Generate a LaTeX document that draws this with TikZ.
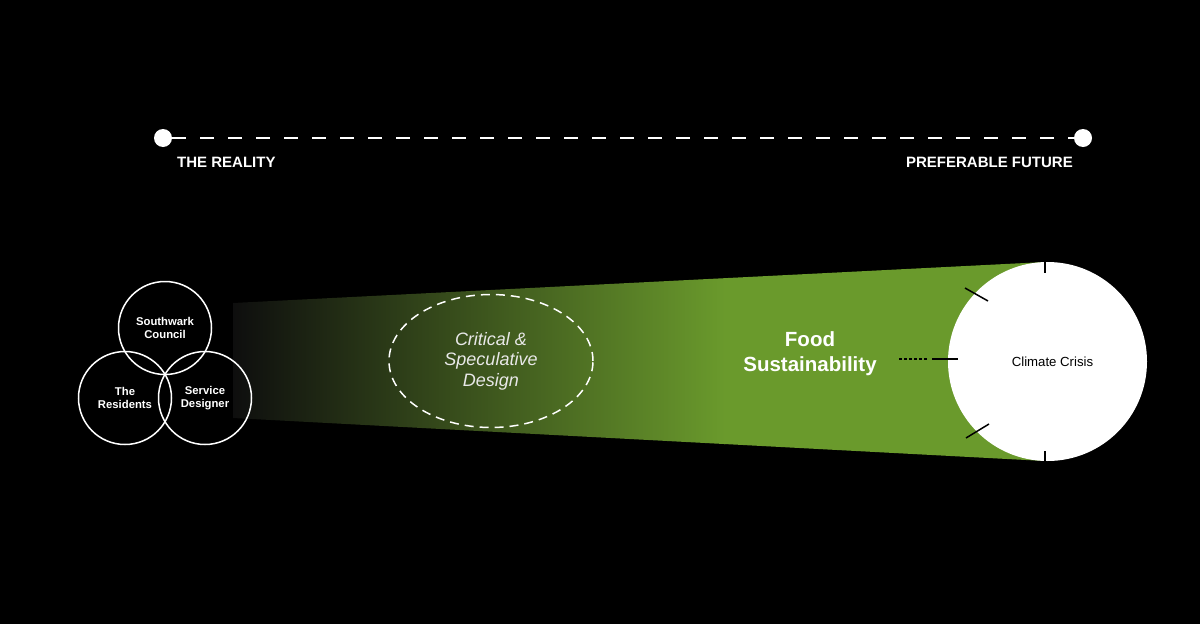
\documentclass[tikz,border=0pt]{standalone}
\usepackage{fontspec}
\setmainfont{Liberation Sans}
\usetikzlibrary{shapes.geometric}

\definecolor{foodgreen}{RGB}{106,154,44}
\definecolor{beamgrey}{RGB}{14,14,14}
\definecolor{beammid}{RGB}{54,68,42}
\definecolor{softwhite}{RGB}{232,232,232}

\begin{document}
\begin{tikzpicture}[
  x=1pt, y=-1pt,
  every node/.style={inner sep=1pt},
  dot/.style={circle, fill=white, minimum size=18pt, inner sep=0pt},
  timeline/.style={draw=white, line width=1.5pt, dash pattern=on 14pt off 14pt},
  stake/.style={circle, draw=white, line width=1.5pt, minimum size=93pt,
    inner sep=0pt, text=white, align=center, font=\fontsize{11.3}{13}\selectfont\bfseries},
  heading/.style={text=white, font=\fontsize{15}{18}\selectfont\bfseries},
  lens/.style={ellipse, draw=white, line width=1.5pt, dash pattern=on 9pt off 6pt,
    minimum width=204pt, minimum height=133pt, inner sep=0pt, text=softwhite,
    align=center, font=\fontsize{18}{20.5}\selectfont\itshape},
  crisis/.style={circle, fill=white, minimum size=199pt, inner sep=0pt,
    font=\fontsize{13.2}{15}\selectfont},
  tick/.style={draw=black, line width=1.5pt},
  dotline/.style={draw=black, line width=1.6pt, dash pattern=on 3pt off 2pt}]

  % canvas
  \useasboundingbox (0,0) rectangle (1200,624);
  \fill[black] (0,0) rectangle (1200,624);

  % beam from the stakeholders to the crisis
  \begin{scope}
    \clip (233,303) -- (1045,262) -- (1045,461) -- (233,418) -- cycle;
    \shade[left color=beamgrey, middle color=beammid, right color=foodgreen]
      (233,250) rectangle (725,470);
    \fill[foodgreen] (724,250) rectangle (1060,470);
  \end{scope}

  % timeline
  \node[dot] (reality) at (163,138) {};
  \node[dot] (future)  at (1083,138) {};
  \draw[timeline] (reality) -- (future);
  \node[heading, anchor=west] (realitytext) at (176,162) {THE REALITY};
  \node[heading, anchor=east] (futuretext)  at (1074,162) {PREFERABLE FUTURE};

  % stakeholders
  \node[stake] (council)   at (165,328) {Southwark\\Council};
  \node[stake] (residents) at (125,398) {The\\Residents};
  \node[stake] (designer)  at (205,398) {Service\\Designer};

  % approach and focus
  \node[lens] (design) at (491,361) {Critical \&\\Speculative\\Design};
  \node[text=white, align=center, font=\fontsize{20.5}{25}\selectfont\bfseries]
    (food) at (810,354) {Food\\Sustainability};

  % climate crisis
  \node[crisis] (climate) at (1047.5,361.5) {\hspace{10pt}Climate Crisis};
  \coordinate (lead)  at (899,359);
  \coordinate (leadend) at (928,359);
  \draw[dotline] (lead) -- (leadend);
  \draw[tick] (932,359) -- (958,359);
  \draw[tick] (1045,262) -- (1045,273);
  \draw[tick] (1045,451) -- (1045,461);
  \draw[tick] (965,288) -- (988,301);
  \draw[tick] (966,438) -- (989,424);
\end{tikzpicture}
\end{document}
